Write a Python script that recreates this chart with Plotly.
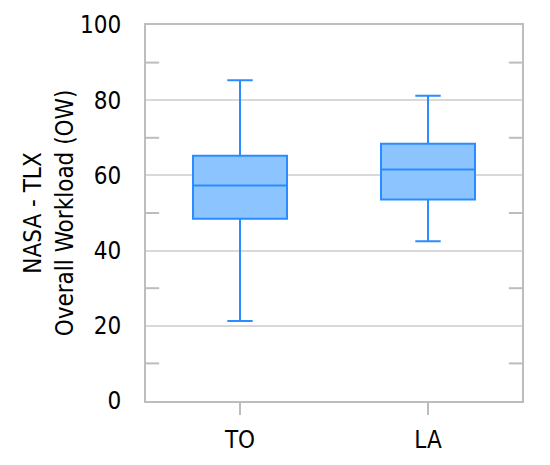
import plotly.graph_objects as go

# values
groups = ["TO", "LA"]
lower_whisker = [21.3, 42.5]
q1_vals = [48.5, 53.6]
medians = [57.3, 61.6]
q3_vals = [65.2, 68.4]
upper_whisker = [85.3, 81.2]

y_ticks = [0, 20, 40, 60, 80, 100]
minor_ticks = [10, 30, 50, 70, 90]

line_col = "#2B8CFF"
fill_col = "#8CC4FF"
axis_col = "#BDBDBD"
font_name = "DejaVu Sans Condensed, DejaVu Sans"

fig = go.Figure()
fig.add_trace(go.Box(
    x=groups,
    lowerfence=lower_whisker,
    q1=q1_vals,
    median=medians,
    q3=q3_vals,
    upperfence=upper_whisker,
    fillcolor=fill_col,
    line=dict(color=line_col, width=2),
    width=0.5,
    whiskerwidth=0.27,
    boxpoints=False,
    showlegend=False,
))

# minor tick marks drawn inside on both the left and right edges
for t in minor_ticks:
    for x0, x1 in [(0, 0.035), (0.965, 1)]:
        fig.add_shape(type="line", xref="paper", yref="y",
                      x0=x0, x1=x1, y0=t, y1=t,
                      line=dict(color=axis_col, width=2))

# the page adds ~8px body margin, so margins are shifted to compensate
fig.update_layout(
    width=550, height=465,
    margin=dict(l=138, r=36, t=17, b=72),
    plot_bgcolor="white", paper_bgcolor="white",
    font=dict(family=font_name, size=24, color="black"),
)
fig.update_xaxes(
    range=[-0.5, 1.5], automargin=False,
    showline=True, linecolor=axis_col, linewidth=2, mirror=True,
    ticks="outside", ticklen=12, tickwidth=2, tickcolor=axis_col,
    ticklabelstandoff=4,
    showgrid=False, tickfont=dict(size=24),
)
fig.update_yaxes(
    range=[0, 100], tickvals=y_ticks, automargin=False,
    showline=True, linecolor=axis_col, linewidth=2, mirror=True,
    showgrid=True, gridcolor="#D9D9D9", gridwidth=1.5,
    ticks="", ticklabelstandoff=18,
    tickfont=dict(size=24),
    title=dict(text="NASA - TLX<br>Overall Workload (OW)", font=dict(size=24), standoff=0),
)

fig.write_html("out.html")
